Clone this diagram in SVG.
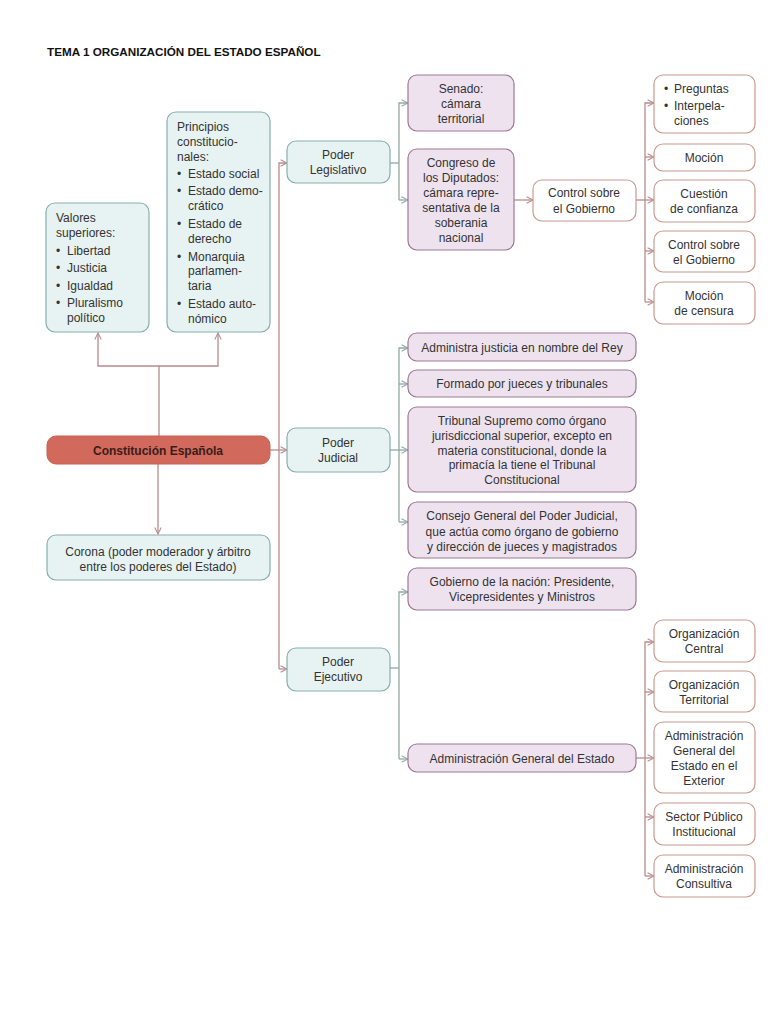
<svg xmlns="http://www.w3.org/2000/svg" width="768" height="1024" viewBox="0 0 768 1024">
<defs>
<marker id="ap" viewBox="0 0 10 10" refX="9" refY="5" markerWidth="8" markerHeight="8" markerUnits="userSpaceOnUse" orient="auto">
<path d="M1,1 L9,5 L1,9" fill="none" stroke="#b98b8c" stroke-width="1.3"/>
</marker>
<marker id="at" viewBox="0 0 10 10" refX="9" refY="5" markerWidth="8" markerHeight="8" markerUnits="userSpaceOnUse" orient="auto">
<path d="M1,1 L9,5 L1,9" fill="none" stroke="#8fa9a6" stroke-width="1.3"/>
</marker>
</defs>
<style>
text{font-family:"Liberation Sans",Arial,sans-serif;font-size:12px;fill:#333;}
.c{text-anchor:middle;}
.teal{fill:#e7f2f2;stroke:#86afac;stroke-width:1.2;}
.purp{fill:#eee2ef;stroke:#9d7896;stroke-width:1.2;}
.white{fill:#fff;stroke:#c99a8e;stroke-width:1.2;}
.red{fill:#d1695c;stroke:#c9604f;stroke-width:1;}
.lp{fill:none;stroke:#b98b8c;stroke-width:1.3;}
.lt{fill:none;stroke:#8fa9a6;stroke-width:1.3;}
.title{font-weight:bold;font-size:11.7px;fill:#111;}
.bold{font-weight:bold;fill:#3a1c18;}
</style>
<rect width="768" height="1024" fill="#fff"/>
<text class="title" x="47" y="56">TEMA 1 ORGANIZACIÓN DEL ESTADO ESPAÑOL</text>

<g id="connectors">
<path class="lp" d="M159,436 V366 H98 V333" marker-end="url(#ap)"/>
<path class="lp" d="M159,366 H218 V333" marker-end="url(#ap)"/>
<path class="lp" d="M158,464 V534" marker-end="url(#ap)"/>
<path class="lp" d="M279,669 V163 H287" marker-end="url(#ap)"/>
<path class="lp" d="M270,450 H287" marker-end="url(#ap)"/>
<path class="lp" d="M279,669 H287" marker-end="url(#ap)"/>
<path class="lt" d="M390,163 H399"/>
<path class="lt" d="M399,200 V103 H408" marker-end="url(#at)"/>
<path class="lt" d="M399,200 H408" marker-end="url(#at)"/>
<path class="lp" d="M514,200 H533" marker-end="url(#ap)"/>
<path class="lp" d="M636,200 H645"/>
<path class="lp" d="M645,302 V103 H654" marker-end="url(#ap)"/>
<path class="lp" d="M645,157 H654" marker-end="url(#ap)"/>
<path class="lp" d="M645,200 H654" marker-end="url(#ap)"/>
<path class="lp" d="M645,251 H654" marker-end="url(#ap)"/>
<path class="lp" d="M645,302 H654" marker-end="url(#ap)"/>
<path class="lt" d="M390,450 H408" marker-end="url(#at)"/>
<path class="lt" d="M399,522 V348 H408" marker-end="url(#at)"/>
<path class="lt" d="M399,384 H408" marker-end="url(#at)"/>
<path class="lt" d="M399,522 H408" marker-end="url(#at)"/>
<path class="lt" d="M390,668 H399"/>
<path class="lt" d="M399,759 V592 H408" marker-end="url(#at)"/>
<path class="lt" d="M399,759 H408" marker-end="url(#at)"/>
<path class="lp" d="M636,758 H654" marker-end="url(#ap)"/>
<path class="lp" d="M645,876 V642 H654" marker-end="url(#ap)"/>
<path class="lp" d="M645,692 H654" marker-end="url(#ap)"/>
<path class="lp" d="M645,817 H654" marker-end="url(#ap)"/>
<path class="lp" d="M645,876 H654" marker-end="url(#ap)"/>
</g>

<g id="valores">
<rect class="teal" x="46" y="203" width="103" height="129" rx="9"/>
<text x="56" y="222">Valores</text>
<text x="56" y="237">superiores:</text>
<text x="56" y="255">•</text><text x="67" y="255">Libertad</text>
<text x="56" y="272">•</text><text x="67" y="272">Justicia</text>
<text x="56" y="290">•</text><text x="67" y="290">Igualdad</text>
<text x="56" y="307">•</text><text x="67" y="307">Pluralismo</text>
<text x="67" y="322">político</text>
</g>

<g id="principios">
<rect class="teal" x="167" y="112" width="103" height="220" rx="9"/>
<text x="177" y="131">Principios</text>
<text x="177" y="146">constitucio-</text>
<text x="177" y="161">nales:</text>
<text x="177" y="178">•</text><text x="188" y="178">Estado social</text>
<text x="177" y="195">•</text><text x="188" y="195">Estado demo-</text>
<text x="188" y="210">crático</text>
<text x="177" y="228">•</text><text x="188" y="228">Estado de</text>
<text x="188" y="243">derecho</text>
<text x="177" y="261">•</text><text x="188" y="261">Monarquia</text>
<text x="188" y="275">parlamen-</text>
<text x="188" y="290">taria</text>
<text x="177" y="308">•</text><text x="188" y="308">Estado auto-</text>
<text x="188" y="323">nómico</text>
</g>

<g id="constitucion">
<rect class="red" x="47" y="436" width="223" height="28" rx="9"/>
<text class="c bold" x="158" y="455">Constitución Española</text>
</g>

<g id="corona">
<rect class="teal" x="47" y="535" width="223" height="45" rx="9"/>
<text class="c" x="158" y="556">Corona (poder moderador y árbitro</text>
<text class="c" x="158" y="571">entre los poderes del Estado)</text>
</g>

<g id="legislativo">
<rect class="teal" x="287" y="141" width="103" height="42" rx="9"/>
<text class="c" x="338" y="159">Poder</text>
<text class="c" x="338" y="174">Legislativo</text>
</g>

<g id="senado">
<rect class="purp" x="408" y="75" width="106" height="56" rx="9"/>
<text class="c" x="461" y="93">Senado:</text>
<text class="c" x="461" y="108">cámara</text>
<text class="c" x="461" y="123">territorial</text>
</g>

<g id="congreso">
<rect class="purp" x="408" y="149" width="106" height="101" rx="9"/>
<text class="c" x="461" y="167">Congreso de</text>
<text class="c" x="461" y="182">los Diputados:</text>
<text class="c" x="461" y="197">cámara repre-</text>
<text class="c" x="461" y="212">sentativa de la</text>
<text class="c" x="461" y="227">soberania</text>
<text class="c" x="461" y="242">nacional</text>
</g>

<g id="control">
<rect class="white" x="533" y="180" width="103" height="41" rx="9"/>
<text class="c" x="584" y="197">Control sobre</text>
<text class="c" x="584" y="213">el Gobierno</text>
</g>

<g id="preguntas">
<rect class="white" x="654" y="75" width="101" height="58" rx="9"/>
<text x="664" y="93">•</text><text x="674" y="93">Preguntas</text>
<text x="664" y="110">•</text><text x="674" y="110">Interpela-</text>
<text x="674" y="125">ciones</text>
</g>

<g id="mocion">
<rect class="white" x="654" y="144" width="101" height="27" rx="9"/>
<text class="c" x="704" y="162">Moción</text>
</g>

<g id="cuestion">
<rect class="white" x="654" y="180" width="101" height="42" rx="9"/>
<text class="c" x="704" y="198">Cuestión</text>
<text class="c" x="704" y="213">de confianza</text>
</g>

<g id="control2">
<rect class="white" x="654" y="231" width="101" height="41" rx="9"/>
<text class="c" x="704" y="249">Control sobre</text>
<text class="c" x="704" y="264">el Gobierno</text>
</g>

<g id="censura">
<rect class="white" x="654" y="282" width="101" height="42" rx="9"/>
<text class="c" x="704" y="300">Moción</text>
<text class="c" x="704" y="315">de censura</text>
</g>

<g id="judicial">
<rect class="teal" x="287" y="428" width="103" height="44" rx="9"/>
<text class="c" x="338" y="447">Poder</text>
<text class="c" x="338" y="462">Judicial</text>
</g>

<g id="administra">
<rect class="purp" x="408" y="333" width="228" height="28" rx="9"/>
<text class="c" x="522" y="352">Administra justicia en nombre del Rey</text>
</g>

<g id="formado">
<rect class="purp" x="408" y="370" width="228" height="27" rx="9"/>
<text class="c" x="522" y="388">Formado por jueces y tribunales</text>
</g>

<g id="tribunal">
<rect class="purp" x="408" y="407" width="228" height="85" rx="9"/>
<text class="c" x="522" y="425">Tribunal Supremo como órgano</text>
<text class="c" x="522" y="440">jurisdiccional superior, excepto en</text>
<text class="c" x="522" y="455">materia constitucional, donde la</text>
<text class="c" x="522" y="469">primacía la tiene el Tribunal</text>
<text class="c" x="522" y="484">Constitucional</text>
</g>

<g id="consejo">
<rect class="purp" x="408" y="502" width="228" height="56" rx="9"/>
<text class="c" x="522" y="520">Consejo General del Poder Judicial,</text>
<text class="c" x="522" y="536">que actúa como órgano de gobierno</text>
<text class="c" x="522" y="551">y dirección de jueces y magistrados</text>
</g>

<g id="ejecutivo">
<rect class="teal" x="287" y="648" width="103" height="43" rx="9"/>
<text class="c" x="338" y="666">Poder</text>
<text class="c" x="338" y="681">Ejecutivo</text>
</g>

<g id="gobierno">
<rect class="purp" x="408" y="568" width="228" height="42" rx="9"/>
<text class="c" x="522" y="586">Gobierno de la nación: Presidente,</text>
<text class="c" x="522" y="601">Vicepresidentes y Ministros</text>
</g>

<g id="admingeneral">
<rect class="purp" x="408" y="744" width="228" height="28" rx="9"/>
<text class="c" x="522" y="763">Administración General del Estado</text>
</g>

<g id="orgcentral">
<rect class="white" x="654" y="620" width="101" height="42" rx="9"/>
<text class="c" x="704" y="638">Organización</text>
<text class="c" x="704" y="653">Central</text>
</g>

<g id="orgterritorial">
<rect class="white" x="654" y="671" width="101" height="41" rx="9"/>
<text class="c" x="704" y="689">Organización</text>
<text class="c" x="704" y="704">Territorial</text>
</g>

<g id="exterior">
<rect class="white" x="654" y="722" width="101" height="71" rx="9"/>
<text class="c" x="704" y="740">Administración</text>
<text class="c" x="704" y="755">General del</text>
<text class="c" x="704" y="770">Estado en el</text>
<text class="c" x="704" y="785">Exterior</text>
</g>

<g id="sector">
<rect class="white" x="654" y="803" width="101" height="42" rx="9"/>
<text class="c" x="704" y="821">Sector Público</text>
<text class="c" x="704" y="836">Institucional</text>
</g>

<g id="consultiva">
<rect class="white" x="654" y="855" width="101" height="42" rx="9"/>
<text class="c" x="704" y="873">Administración</text>
<text class="c" x="704" y="888">Consultiva</text>
</g>
</svg>
